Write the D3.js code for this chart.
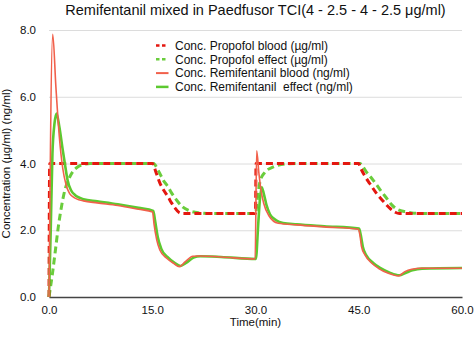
<!DOCTYPE html>
<html>
<head>
<meta charset="utf-8">
<script src="https://cdn.jsdelivr.net/npm/d3@7"></script>
<style>
  body { margin: 0; background: #fff; }
  svg { display: block; font-family: "Liberation Sans", Arial, Helvetica, sans-serif; }
</style>
</head>
<body>
<div class="js-chart"></div>
<script>
'use strict';

//time axis (min) and concentration axis ticks
var xTicks = [0, 15, 30, 45, 60];
var yTicks = [0, 2, 4, 6, 8];

//propofol blood (µg/ml)
var propBloodT = [0, 0.1, 15, 15.6, 16.1, 16.6, 17.3, 17.8, 18.3, 18.9, 19.4, 30, 30.08, 45, 45.2, 45.9, 46.6, 47.6, 48.6, 49.5, 50.3, 50.9, 60];
var propBloodC = [0, 4.0, 4.0, 3.7, 3.42, 3.22, 3.0, 2.82, 2.67, 2.53, 2.5, 2.5, 4.0, 4.0, 3.9, 3.62, 3.4, 3.1, 2.86, 2.66, 2.54, 2.5, 2.5];

//propofol effect site (µg/ml)
var propEffectT = [0, 0.5, 0.9, 1.35, 1.85, 2.3, 2.8, 3.5, 4.2, 5, 6, 15.2, 15.4, 16.1, 16.6, 17.3, 17.8, 18.55, 19.3, 20.2, 21.2, 22.5, 24, 30, 30.3, 30.65, 31.3, 32.6, 34.5, 36, 45.2, 45.4, 46.1, 46.9, 47.6, 48.3, 49.05, 49.8, 50.75, 51.97, 53, 55, 60];
var propEffectC = [0, 0.7, 1.35, 2.1, 2.75, 3.2, 3.5, 3.77, 3.9, 3.97, 4.0, 4.0, 3.96, 3.7, 3.5, 3.3, 3.12, 2.9, 2.72, 2.6, 2.54, 2.51, 2.5, 2.5, 3.0, 3.45, 3.72, 3.9, 3.99, 4.0, 4.0, 3.96, 3.75, 3.55, 3.36, 3.16, 2.96, 2.76, 2.61, 2.55, 2.51, 2.5, 2.5];

//remifentanil blood (ng/ml)
var remiBloodT = [0, 0.54, 1.0, 1.5, 2.0, 2.5, 3.0, 3.5, 4.0, 5, 7, 10, 13, 15.05, 15.25, 15.65, 16.1, 17.1, 18.1, 18.93, 19.76, 20.9, 21.9, 25, 29.95, 30.17, 30.5, 30.8, 31.2, 31.9, 33.3, 36, 40, 44.95, 45.2, 45.4, 45.9, 46.9, 47.85, 49.3, 50.75, 51.7, 52.7, 54.1, 60];
var remiBloodC = [0, 7.87, 6.3, 4.8, 3.85, 3.35, 3.1, 3.0, 2.94, 2.88, 2.82, 2.74, 2.63, 2.55, 2.2, 1.71, 1.41, 1.16, 1.01, 0.91, 1.05, 1.22, 1.23, 1.2, 1.14, 4.38, 3.7, 3.2, 2.8, 2.45, 2.21, 2.16, 2.1, 2.03, 1.81, 1.51, 1.26, 1.01, 0.86, 0.71, 0.63, 0.76, 0.83, 0.86, 0.86];

//remifentanil effect site (ng/ml)
var remiEffectT = [0, 0.25, 0.5, 0.8, 1.1, 1.5, 2.0, 2.3, 2.7, 3.2, 3.8, 4.5, 5, 7, 10, 13, 15.15, 15.4, 15.8, 16.3, 17.2, 18.2, 19.1, 19.9, 21, 22, 25, 30.05, 30.4, 30.65, 30.9, 31.2, 31.6, 32.1, 33, 34, 36, 40, 45.05, 45.3, 45.6, 46.1, 47.1, 48.1, 49.5, 50.9, 51.8, 52.8, 54.2, 60];
var remiEffectC = [0, 2.0, 4.3, 5.2, 5.5, 5.1, 4.4, 4.0, 3.5, 3.2, 3.05, 2.97, 2.93, 2.87, 2.78, 2.67, 2.58, 2.3, 1.8, 1.45, 1.2, 1.03, 0.93, 1.02, 1.18, 1.22, 1.2, 1.14, 2.2, 2.95, 3.29, 3.1, 2.75, 2.48, 2.3, 2.22, 2.18, 2.12, 2.05, 1.85, 1.5, 1.25, 1.02, 0.87, 0.73, 0.65, 0.72, 0.8, 0.85, 0.87];

var seriesNames = [
    'Conc. Propofol blood (µg/ml)',
    'Conc. Propofol effect (µg/ml)',
    'Conc. Remifentanil blood (ng/ml)',
    'Conc. Remifentanil  effect (ng/ml)'
];

var W = 474, H = 338;
var margin = { top: 30, right: 12, bottom: 41, left: 49 };
var w = W - margin.left - margin.right;
var h = H - margin.top - margin.bottom;

var svg = d3.select('.js-chart').append('svg')
    .attr('width', W)
    .attr('height', H);

var x = d3.scaleLinear().domain([0, 60]).range([0, w]);
var y = d3.scaleLinear().domain([0, 8]).range([h, 0]);

var vis = svg.append('g')
    .attr('transform', 'translate(' + margin.left + ',' + margin.top + ')');

//horizontal grid lines + y tick labels
var yAxis = vis.append('g')
    .call(d3.axisLeft(y).tickValues(yTicks).tickSize(-w).tickPadding(13)
        .tickFormat(d3.format('.1f')));
yAxis.select('.domain').remove();
yAxis.selectAll('line').attr('stroke', '#dcdcdc').attr('stroke-width', 1);
yAxis.selectAll('text').attr('fill', '#111').style('font-size', '11.5px');

//bottom axis line with labels
var xAxis = vis.append('g')
    .attr('transform', 'translate(0,' + h + ')')
    .call(d3.axisBottom(x).tickValues(xTicks).tickSize(0).tickSizeOuter(0).tickPadding(9)
        .tickFormat(d3.format('.1f')));
xAxis.select('.domain').attr('stroke', '#444').attr('stroke-width', 1.3);
xAxis.selectAll('text').attr('fill', '#111').style('font-size', '11.5px');

//build [t, c] pairs from the named arrays
function pairs(t, c) {
    return t.map(function (d, i) { return [d, c[i]]; });
}

var line = d3.line()
    .x(function (d) { return x(d[0]); })
    .y(function (d) { return y(d[1]); })
    .curve(d3.curveMonotoneX);

var series = [
    { data: pairs(propEffectT, propEffectC), color: '#6acd3c', width: 3, dash: '7,4' },
    { data: pairs(propBloodT, propBloodC), color: '#e4170f', width: 3, dash: '7,4' },
    { data: pairs(remiEffectT, remiEffectC), color: '#5cc930', width: 2.6, dash: null },
    { data: pairs(remiBloodT, remiBloodC), color: '#f1604b', width: 1.6, dash: null }
];

series.forEach(function (s) {
    vis.append('path')
        .datum(s.data)
        .attr('d', line)
        .attr('fill', 'none')
        .attr('stroke', s.color)
        .attr('stroke-width', s.width)
        .attr('stroke-dasharray', s.dash);
});

//legend, in the order of the names
var legendStyle = [
    { color: '#e4170f', width: 2.5, len: 9.5, dash: '3.5,2.5' },
    { color: '#6acd3c', width: 2.5, len: 9.5, dash: '3.5,2.5' },
    { color: '#f1604b', width: 2, len: 12.5, dash: null },
    { color: '#5cc930', width: 2.5, len: 12.5, dash: null }
];
var legend = svg.append('g').attr('transform', 'translate(156,45.5)');
seriesNames.forEach(function (name, i) {
    var row = legend.append('g').attr('transform', 'translate(0,' + (i * 13.8) + ')');
    row.append('line')
        .attr('x1', 0).attr('x2', legendStyle[i].len)
        .attr('stroke', legendStyle[i].color)
        .attr('stroke-width', legendStyle[i].width)
        .attr('stroke-dasharray', legendStyle[i].dash);
    row.append('text')
        .attr('x', 19).attr('y', 4.2)
        .attr('fill', '#111')
        .style('font-size', '12px')
        .style('white-space', 'pre')
        .text(name);
});

//titles
svg.append('text')
    .attr('x', margin.left + w / 2).attr('y', 15)
    .attr('text-anchor', 'middle')
    .attr('fill', '#111')
    .style('font-size', '14.5px')
    .text('Remifentanil mixed in Paedfusor TCI(4 - 2.5 - 4 - 2.5 μg/ml)');

svg.append('text')
    .attr('x', margin.left + w / 2).attr('y', 326)
    .attr('text-anchor', 'middle')
    .attr('fill', '#111')
    .style('font-size', '11.5px')
    .text('Time(min)');

svg.append('text')
    .attr('transform', 'translate(10,' + (margin.top + h / 2) + ') rotate(-90)')
    .attr('text-anchor', 'middle')
    .attr('fill', '#111')
    .style('font-size', '11.5px')
    .text('Concentration (µg/ml) (ng/ml)');
</script>
</body>
</html>
